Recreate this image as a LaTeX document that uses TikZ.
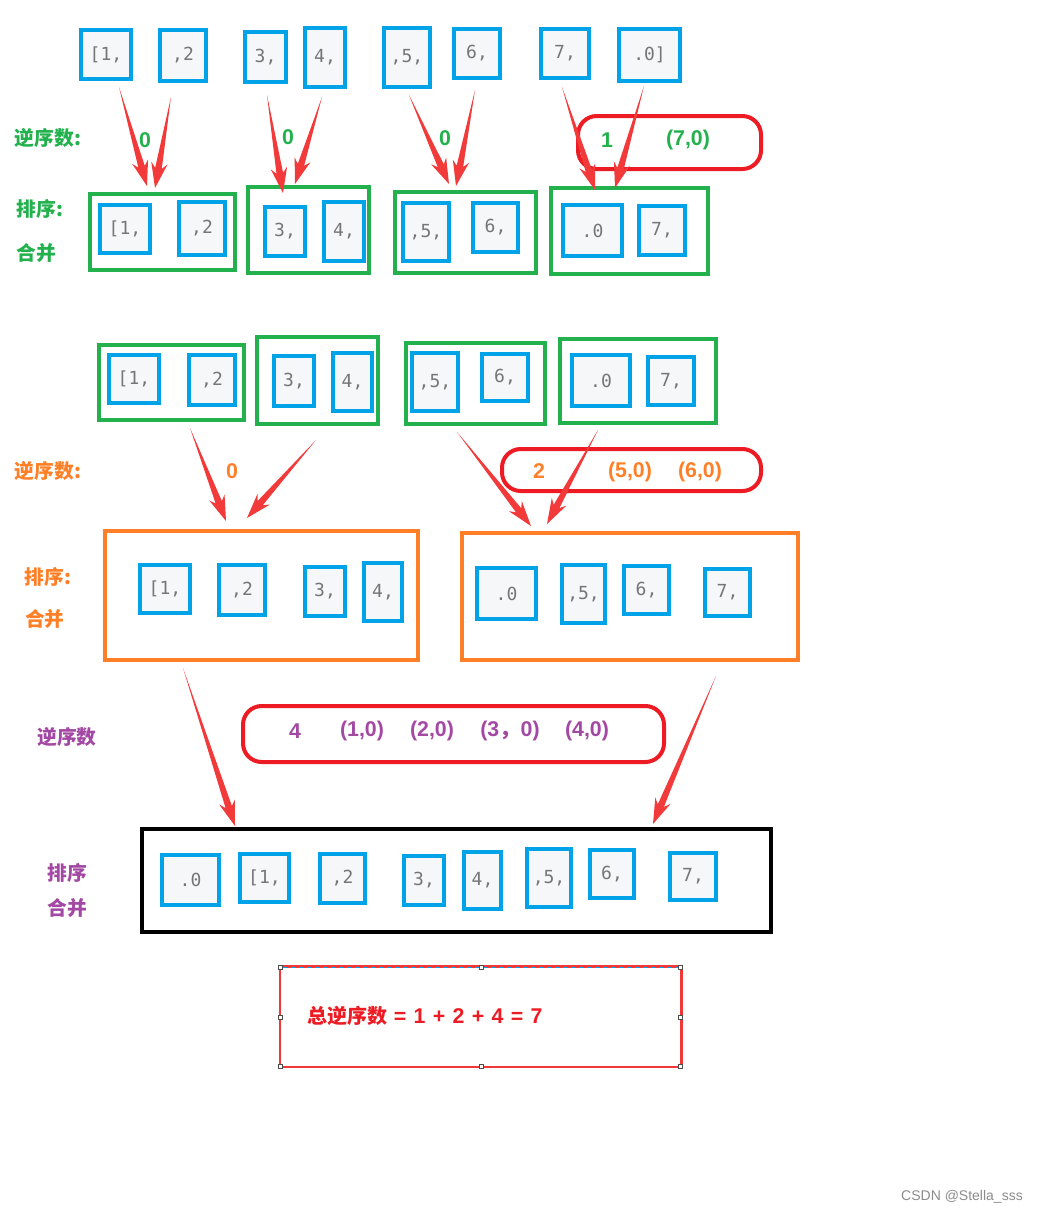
\documentclass[tikz,border=0pt]{standalone}
\usepackage{fontspec}
\setmonofont{DejaVu Sans Mono}
\newfontfamily\cjk{Noto Sans CJK SC}
\newfontfamily\numfont{Liberation Sans}
\newfontfamily\wmfont{Liberation Sans}
\usetikzlibrary{calc}
\definecolor{cblue}{RGB}{0,162,232}
\definecolor{cgreen}{RGB}{34,177,76}
\definecolor{corange}{RGB}{255,127,39}
\definecolor{cpurple}{RGB}{163,73,164}
\definecolor{cred}{RGB}{237,28,36}
\definecolor{arrowred}{RGB}{242,58,58}
\definecolor{finalred}{RGB}{240,56,56}
\definecolor{boxgrey}{RGB}{246,247,249}
\definecolor{monogrey}{RGB}{118,118,118}
\tikzset{
 blk/.style={draw=cblue, line width=3.4pt, fill=boxgrey, inner sep=0pt, font=\ttfamily\fontsize{13.5}{15}\selectfont, text=monogrey},
 gbox/.style={draw=cgreen, line width=3pt, inner sep=0pt},
 obox/.style={draw=corange, line width=3pt, inner sep=0pt},
 kbox/.style={draw=black, line width=3pt, inner sep=0pt},
 ebox/.style={draw=cred, line width=3pt, rounded corners=14pt},
 lab/.style={font=\cjk\bfseries\fontsize{14.8}{16}\selectfont, inner sep=0pt},
 num/.style={font=\numfont\bfseries\fontsize{16}{18}\selectfont, inner sep=0pt},
 handle/.style={draw=black!70, fill=white, line width=0.4pt, minimum size=3pt, inner sep=0pt},
}
\newcommand\mkbox[7]{%
 \pgfmathsetmacro\bxcx{(#3+#5)/2}%
 \pgfmathsetmacro\bxcy{(#4+#6)/2}%
 \pgfmathsetmacro\bxw{(#5-#3)*0.75-3}%
 \pgfmathsetmacro\bxh{(#6-#4)*0.75-3}%
 \node[#1, minimum width=\bxw pt, minimum height=\bxh pt] (#2) at (\bxcx,\bxcy) {#7};}
\newcommand\taparrow[2]{%
 \coordinate (tmph) at ($(#2)!15pt!(#1)$);
 \coordinate (tmpw) at ($(#2)!19pt!(#1)$);
 \fill[arrowred] (#1) -- ($(tmph)!2.5pt!90:(#1)$) -- ($(tmpw)!6.2pt!90:(#1)$) -- (#2)
   -- ($(tmpw)!6.2pt!-90:(#1)$) -- ($(tmph)!2.5pt!-90:(#1)$) -- cycle;}
\begin{document}
\begin{tikzpicture}[x=0.75pt,y=-0.75pt]
\useasboundingbox[fill=white] (0,0) rectangle (1044,1214);

% ---------- row 1 ----------
\mkbox{blk}{r1a}{79}{28}{133}{81}{[1,}
\mkbox{blk}{r1b}{158}{28}{208}{83}{,2}
\mkbox{blk}{r1c}{243}{30}{288}{84}{3,}
\mkbox{blk}{r1d}{303}{26}{347}{89}{4,}
\mkbox{blk}{r1e}{382}{26}{432}{89}{,5,}
\mkbox{blk}{r1f}{452}{27}{502}{80}{6,}
\mkbox{blk}{r1g}{539}{27}{591}{80}{7,}
\mkbox{blk}{r1h}{617}{27}{682}{83}{.0]}

\node[lab, text=cgreen] (l1) at (48,138) {逆序数:};
\node[num, text=cgreen] (z1) at (145,140) {0};
\node[num, text=cgreen] (z2) at (288,137) {0};
\node[num, text=cgreen] (z3) at (445,138) {0};
\mkbox{ebox}{e1}{576}{114}{763}{171}{}
\node[num, text=cgreen] (n1) at (607,140) {1};
\node[num, text=cgreen] (p1) at (688,140) {(7,0)};

% ---------- row 2 ----------
\mkbox{gbox}{g2a}{88}{192}{237}{272}{}
\mkbox{gbox}{g2b}{246}{185}{371}{275}{}
\mkbox{gbox}{g2c}{393}{190}{538}{275}{}
\mkbox{gbox}{g2d}{549}{186}{710}{276}{}
\mkbox{blk}{r2a}{98}{203}{152}{255}{[1,}
\mkbox{blk}{r2b}{177}{200}{227}{257}{,2}
\mkbox{blk}{r2c}{263}{205}{307}{258}{3,}
\mkbox{blk}{r2d}{322}{200}{366}{263}{4,}
\mkbox{blk}{r2e}{401}{201}{451}{263}{,5,}
\mkbox{blk}{r2f}{471}{201}{520}{254}{6,}
\mkbox{blk}{r2g}{561}{203}{624}{258}{.0}
\mkbox{blk}{r2h}{637}{204}{687}{257}{7,}
\node[lab, text=cgreen] (l2) at (40,209) {排序:};
\node[lab, text=cgreen] (l3) at (36,253) {合并};

% arrows row 1
\coordinate (a1s) at (119,87);  \coordinate (a1e) at (147,186);
\coordinate (a2s) at (171,97);  \coordinate (a2e) at (155,188);
\coordinate (a3s) at (267,95);  \coordinate (a3e) at (283,193);
\coordinate (a4s) at (322,97);  \coordinate (a4e) at (295,184);
\coordinate (a5s) at (409,95);  \coordinate (a5e) at (449,184);
\coordinate (a6s) at (475,90);  \coordinate (a6e) at (456,186);
\coordinate (a7s) at (562,87);  \coordinate (a7e) at (595,190);
\coordinate (a8s) at (644,86);  \coordinate (a8e) at (615,188);
\taparrow{a1s}{a1e}\taparrow{a2s}{a2e}\taparrow{a3s}{a3e}\taparrow{a4s}{a4e}
\taparrow{a5s}{a5e}\taparrow{a6s}{a6e}\taparrow{a7s}{a7e}\taparrow{a8s}{a8e}

% ---------- row 3 ----------
\mkbox{gbox}{g3a}{97}{343}{246}{422}{}
\mkbox{gbox}{g3b}{255}{335}{380}{426}{}
\mkbox{gbox}{g3c}{404}{341}{547}{426}{}
\mkbox{gbox}{g3d}{558}{337}{718}{425}{}
\mkbox{blk}{r3a}{107}{353}{161}{405}{[1,}
\mkbox{blk}{r3b}{187}{353}{237}{407}{,2}
\mkbox{blk}{r3c}{272}{354}{316}{408}{3,}
\mkbox{blk}{r3d}{331}{351}{374}{413}{4,}
\mkbox{blk}{r3e}{410}{351}{460}{413}{,5,}
\mkbox{blk}{r3f}{480}{352}{530}{403}{6,}
\mkbox{blk}{r3g}{570}{353}{632}{408}{.0}
\mkbox{blk}{r3h}{646}{355}{696}{407}{7,}

\node[lab, text=corange] (l4) at (48,471) {逆序数:};
\node[num, text=corange] (z4) at (232,471) {0};
\mkbox{ebox}{e2}{500}{447}{763}{493}{}
\node[num, text=corange] (n2) at (539,471) {2};
\node[num, text=corange] (p2) at (630,472) {(5,0)};
\node[num, text=corange] (p3) at (700,472) {(6,0)};

% ---------- row 4 (orange) ----------
\mkbox{obox}{o1}{103}{529}{420}{662}{}
\mkbox{obox}{o2}{460}{531}{800}{662}{}
\mkbox{blk}{r4a}{138}{563}{192}{615}{[1,}
\mkbox{blk}{r4b}{217}{563}{267}{617}{,2}
\mkbox{blk}{r4c}{303}{565}{347}{618}{3,}
\mkbox{blk}{r4d}{362}{561}{404}{623}{4,}
\mkbox{blk}{r4e}{475}{566}{538}{621}{.0}
\mkbox{blk}{r4f}{560}{563}{607}{625}{,5,}
\mkbox{blk}{r4g}{622}{564}{671}{616}{6,}
\mkbox{blk}{r4h}{703}{567}{752}{618}{7,}
\node[lab, text=corange] (l5) at (48,577) {排序:};
\node[lab, text=corange] (l6) at (45,619) {合并};

% arrows row 3
\coordinate (b1s) at (190,428); \coordinate (b1e) at (226,521);
\coordinate (b2s) at (316,440); \coordinate (b2e) at (247,518);
\coordinate (b3s) at (457,432); \coordinate (b3e) at (531,526);
\coordinate (b4s) at (598,430); \coordinate (b4e) at (547,524);
\taparrow{b1s}{b1e}\taparrow{b2s}{b2e}\taparrow{b3s}{b3e}\taparrow{b4s}{b4e}

% ---------- row 5 ----------
\node[lab, text=cpurple] (l7) at (67,737) {逆序数};
\mkbox{ebox}{e3}{241}{704}{666}{764}{}
\node[num, text=cpurple] (n3) at (295,731) {4};
\node[num, text=cpurple] (q1) at (362,731) {(1,0)};
\node[num, text=cpurple] (q2) at (432,731) {(2,0)};
\node[num, text=cpurple] (q3) at (510,731) {(3{\cjk\bfseries ，}0)};
\node[num, text=cpurple] (q4) at (587,731) {(4,0)};

\mkbox{kbox}{k}{140}{827}{773}{934}{}
\mkbox{blk}{r5a}{160}{853}{221}{907}{.0}
\mkbox{blk}{r5b}{238}{852}{291}{904}{[1,}
\mkbox{blk}{r5c}{318}{852}{367}{905}{,2}
\mkbox{blk}{r5d}{402}{854}{446}{907}{3,}
\mkbox{blk}{r5e}{462}{850}{503}{911}{4,}
\mkbox{blk}{r5f}{525}{847}{573}{909}{,5,}
\mkbox{blk}{r5g}{588}{848}{636}{900}{6,}
\mkbox{blk}{r5h}{668}{851}{718}{902}{7,}
\node[lab, text=cpurple] (l8) at (67,873) {排序};
\node[lab, text=cpurple] (l9) at (67,908) {合并};

% arrows row 4
\coordinate (c1s) at (183,668); \coordinate (c1e) at (235,826);
\coordinate (c2s) at (716,676); \coordinate (c2e) at (653,824);
\taparrow{c1s}{c1e}\taparrow{c2s}{c2e}

% ---------- total ----------
\node[draw=finalred, line width=2pt, minimum width=301pt, minimum height=75.5pt, inner sep=0pt] (f) at (480.5,1016.5) {};
\draw[cblue, line width=0.6pt, dashed] (283,967.5) -- (678,967.5);
\node[font=\cjk\bfseries\fontsize{15}{17}\selectfont, text=cred, anchor=west, inner sep=0pt] (tot) at (307,1016)
  {总逆序数\hspace{5pt}{\numfont\bfseries\fontsize{16}{18}\selectfont =\hspace{5.5pt}1\hspace{5.5pt}+\hspace{5.5pt}2\hspace{5.5pt}+\hspace{5.5pt}4\hspace{5.5pt}=\hspace{5.5pt}7}};
\foreach \hx/\hy [count=\hi] in {280/967,481/967,680/967,280/1017,680/1017,280/1066,481/1066,680/1066}
  \node[handle] (h\hi) at (\hx,\hy) {};

% watermark
\node[font=\wmfont\fontsize{10.5}{12}\selectfont, text=black!45, inner sep=0pt] (wm) at (962,1197) {CSDN @Stella\_sss};
\end{tikzpicture}
\end{document}
